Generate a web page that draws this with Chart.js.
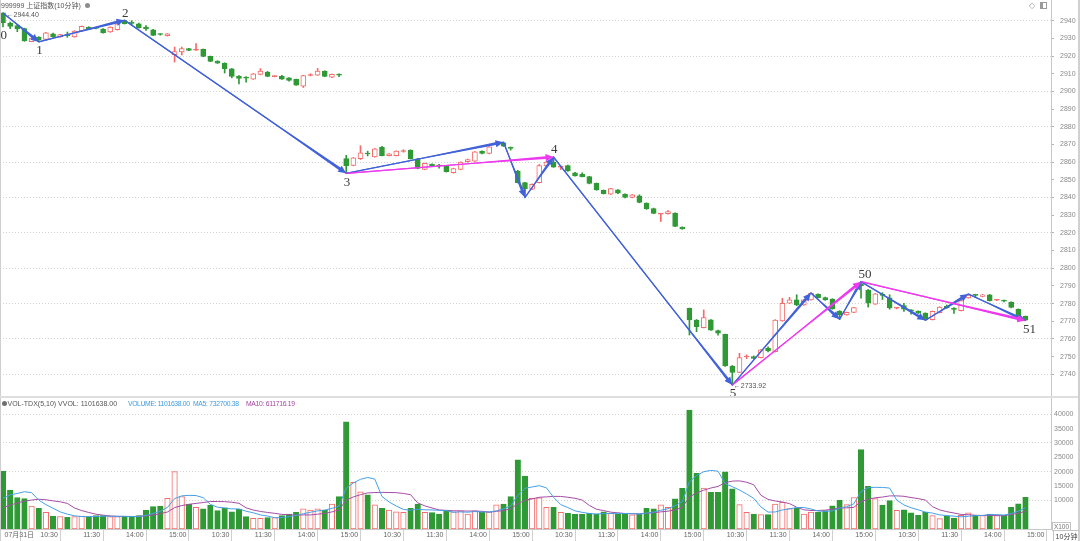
<!DOCTYPE html>
<html><head><meta charset="utf-8">
<script src="https://cdn.jsdelivr.net/npm/chart.js@4.4.1/dist/chart.umd.min.js"></script>
<style>
html,body{margin:0;padding:0;background:#fff;}
body{width:1080px;height:541px;position:relative;overflow:hidden;font-family:"Liberation Sans","Noto Sans CJK SC",Arial,sans-serif;}
.t{position:absolute;white-space:nowrap;font-size:7px;line-height:9px;}
canvas{position:absolute;left:0;}
.ln{position:absolute;background:#d6d6d6;}
</style></head><body>
<canvas id="pc" width="1080" height="397" style="top:0"></canvas>
<canvas id="vc" width="1080" height="144" style="top:397px"></canvas>

<div class="ln" style="left:0;top:0;width:1px;height:541px;background:#cfcfcf"></div>
<div class="ln" style="left:0;top:396px;width:1080px;height:2px;background:#dedede"></div>
<div class="ln" style="left:1078px;top:0;width:2px;height:541px;background:#d0d0d0"></div>

<div class="t" style="left:1px;top:1px;color:#555;font-family:'Liberation Sans','Noto Sans CJK SC',sans-serif;">999999 上证指数(10分钟)</div>
<div style="position:absolute;left:85px;top:3px;width:5px;height:5px;border-radius:50%;background:#8c8c8c"></div>
<div class="t" style="left:1029px;top:1px;color:#999;font-size:8px;font-family:'DejaVu Sans',sans-serif">◇</div>
<div style="position:absolute;left:1040px;top:2px;width:5px;height:5px;border:1px solid #9a9a9a;background:linear-gradient(90deg,#9a9a9a 50%,#fff 50%)"></div>

<div style="position:absolute;left:2px;top:400.5px;width:5px;height:5px;border-radius:50%;background:#6f6f6f"></div>
<div class="t" style="left:7.5px;top:398.5px;color:#555">VOL-TDX(5,10) VVOL: 1101638.00</div>
<div class="t" style="left:128px;top:398.5px;color:#3f9be0;font-size:6.8px;letter-spacing:-0.35px">VOLUME: 1101638.00</div>
<div class="t" style="left:193px;top:398.5px;color:#3f9be0;font-size:6.8px;letter-spacing:-0.3px">MA5: 732700.38</div>
<div class="t" style="left:246px;top:398.5px;color:#a2479f;font-size:6.8px;letter-spacing:-0.3px">MA10: 611716.19</div>

<div class="t" style="left:1052px;top:522px;width:17px;height:7px;line-height:7px;border:1px solid #c4c4c4;color:#777;font-size:6.5px;text-align:center">X100</div>
<div class="t" style="left:1053px;top:530px;width:25px;height:11px;line-height:11px;border-left:1px solid #c4c4c4;border-top:1px solid #c4c4c4;color:#444;font-size:7px;text-align:center;font-family:'Liberation Sans','Noto Sans CJK SC',sans-serif">10分钟</div>

<script>
// ---------- data (10-minute bars, 6 sessions x 24 bars) ----------
const open = [
2944.4,2938.7,2937.2,2935.5,2928.1,2930.7,2929.4,2932.6,2930.8,2932.1,2930.8,2934.2,2936.4,2935.9,2935.3,2933.6,2934.9,2940.1,2938.8,2938.3,2936.4,2934.9,2932.5,2931.5,
2920.8,2922.3,2924.2,2923.4,2923.8,2919.8,2917.2,2916.0,2912.8,2908.7,2907.7,2907.0,2909.6,2911.0,2908.4,2908.5,2907.7,2906.8,2903.0,2909.0,2909.2,2911.5,2908.0,2909.4,
2862.0,2858.1,2862.0,2865.0,2863.0,2868.4,2863.7,2863.7,2866.0,2866.7,2861.9,2855.9,2858.9,2858.0,2857.8,2854.0,2855.9,2860.2,2860.6,2866.2,2864.9,2870.3,2870.9,2868.2,
2855.0,2848.4,2844.7,2848.4,2857.8,2860.0,2857.2,2858.1,2854.0,2853.1,2851.8,2848.0,2844.1,2841.9,2844.3,2841.9,2840.0,2841.0,2836.8,2833.8,2830.6,2830.8,2831.2,2823.2,
2777.3,2770.7,2766.4,2770.8,2764.7,2762.6,2744.7,2741.1,2749.8,2750.0,2749.4,2754.7,2752.8,2770.2,2780.2,2782.1,2779.2,2782.1,2785.2,2783.4,2782.6,2775.8,2773.6,2775.0,
2791.2,2787.5,2779.7,2785.0,2783.2,2777.4,2778.8,2776.2,2775.7,2774.6,2770.9,2774.9,2778.6,2777.0,2776.0,2783.2,2784.9,2784.0,2785.0,2781.9,2781.6,2780.8,2776.8,2772.8];
const high = [
2944.4,2939.2,2937.6,2935.8,2930.4,2931.0,2933.4,2933.0,2932.3,2933.6,2934.4,2937.0,2936.6,2936.2,2935.5,2936.6,2938.5,2940.3,2940.0,2938.6,2937.3,2935.1,2932.7,2932.8,
2925.1,2925.1,2924.4,2927.0,2924.0,2920.0,2917.4,2916.2,2913.0,2908.9,2908.4,2910.2,2912.9,2911.3,2908.8,2909.1,2907.9,2907.0,2909.1,2910.0,2913.0,2911.7,2909.8,2910.0,
2863.8,2862.6,2869.3,2866.2,2867.7,2869.0,2864.9,2866.4,2867.0,2867.0,2862.1,2859.5,2859.1,2858.8,2858.0,2856.6,2860.2,2861.7,2866.0,2866.4,2868.8,2871.0,2871.3,2868.6,
2855.4,2848.6,2847.7,2858.7,2860.4,2862.9,2857.8,2858.3,2854.2,2854.0,2852.0,2848.2,2844.3,2845.2,2844.5,2842.1,2841.7,2841.5,2837.0,2834.0,2831.0,2832.6,2831.4,2823.4,
2777.5,2771.0,2776.4,2771.0,2765.0,2762.8,2745.0,2751.9,2751.0,2750.4,2754.0,2755.6,2770.9,2783.0,2783.5,2785.0,2782.3,2786.0,2785.5,2783.7,2782.8,2776.0,2775.2,2777.9,
2792.4,2788.0,2785.7,2786.2,2785.0,2777.8,2780.2,2776.6,2775.9,2774.8,2775.8,2778.2,2779.2,2777.8,2781.9,2785.4,2785.3,2785.2,2785.2,2782.4,2782.0,2781.0,2777.0,2773.0];
const low = [
2936.5,2935.5,2933.8,2928.3,2928.1,2928.0,2929.2,2930.5,2930.6,2930.6,2930.6,2934.0,2935.1,2935.3,2932.9,2933.4,2934.7,2938.1,2937.4,2935.8,2934.5,2931.5,2931.8,2931.3,
2916.6,2920.6,2923.0,2923.2,2919.6,2916.8,2915.8,2910.4,2907.7,2904.3,2905.2,2906.8,2909.4,2908.3,2908.2,2906.8,2905.8,2903.4,2902.2,2908.8,2909.0,2908.3,2907.8,2908.4,
2853.7,2857.9,2861.5,2863.5,2862.8,2863.5,2863.5,2863.5,2865.6,2861.7,2856.2,2855.7,2857.6,2856.6,2854.4,2853.8,2855.7,2860.0,2860.4,2864.7,2864.7,2870.1,2868.8,2866.8,
2848.2,2840.0,2844.5,2848.2,2857.6,2857.0,2855.8,2854.8,2852.0,2851.6,2847.7,2844.1,2842.0,2841.7,2842.2,2839.8,2839.8,2837.0,2833.3,2830.8,2826.4,2830.6,2823.5,2822.0,
2762.2,2764.1,2766.2,2764.8,2762.2,2744.5,2733.92,2740.9,2748.8,2748.8,2749.2,2752.6,2752.6,2770.0,2780.0,2778.8,2779.0,2781.9,2783.2,2781.8,2776.8,2771.1,2773.4,2774.8,
2783.0,2778.0,2779.5,2782.3,2776.8,2777.0,2775.5,2774.0,2774.4,2770.6,2770.7,2774.7,2777.3,2774.4,2775.8,2783.0,2783.3,2783.8,2781.4,2781.7,2781.0,2777.6,2772.6,2770.4];
const close = [
2938.9,2936.8,2935.4,2928.6,2930.2,2929.2,2933.2,2930.8,2932.1,2931.6,2934.2,2936.8,2935.3,2935.7,2933.2,2936.4,2938.3,2938.3,2938.5,2936.0,2935.3,2931.7,2932.2,2932.6,
2922.6,2924.2,2923.2,2923.8,2919.8,2917.0,2916.0,2912.8,2908.5,2907.4,2907.5,2910.0,2911.5,2908.5,2908.6,2907.0,2906.2,2903.6,2908.9,2909.3,2911.5,2908.5,2909.6,2909.2,
2858.0,2862.4,2865.2,2864.6,2867.5,2863.7,2864.7,2866.2,2866.2,2861.9,2856.4,2859.3,2857.8,2857.8,2854.6,2856.4,2860.0,2861.5,2865.8,2864.9,2868.6,2870.8,2869.0,2867.8,
2848.4,2845.0,2847.5,2858.1,2860.0,2857.2,2857.5,2855.0,2852.2,2851.8,2847.9,2844.3,2842.2,2845.0,2842.4,2840.0,2841.5,2837.2,2833.5,2831.0,2830.8,2832.0,2823.7,2822.2,
2770.7,2767.0,2772.1,2765.0,2763.2,2744.7,2741.1,2749.4,2750.0,2749.0,2753.8,2753.2,2770.7,2780.2,2782.1,2779.2,2782.1,2785.8,2783.4,2782.0,2777.0,2773.6,2775.0,2777.7,
2790.2,2780.3,2785.5,2784.6,2777.5,2777.6,2776.9,2775.9,2774.6,2770.8,2775.6,2778.0,2777.6,2776.7,2781.7,2784.8,2784.6,2785.0,2781.6,2782.1,2781.4,2777.8,2772.8,2770.6];
// volume in units of 100
const volume = [
20200,13600,11000,10600,8000,7200,5800,4500,4300,4100,4300,4500,4300,4650,4650,4300,4300,4300,4100,4650,6500,7800,8000,10700,
20000,11300,8700,7600,7000,8300,6400,7400,6000,6900,4300,3700,3700,4000,4000,4650,5200,5800,7000,6600,7000,6600,8700,11300,
37400,16300,13000,11900,8400,7200,6600,6000,5800,7200,8700,5800,5700,5200,6600,6000,6300,5200,6300,5800,6000,8400,8700,11300,
24100,18500,10700,10900,7600,7600,5800,5500,5100,5100,5500,5100,6000,5500,5200,5200,4900,5200,7200,7000,8400,7600,10500,14200,
41500,19400,14300,12800,12800,19900,14000,8500,5800,5200,5000,5000,8700,9300,7100,7300,5200,5900,5900,6400,8100,10000,8500,11000,
27700,14900,10600,8300,9900,6500,6700,5600,4800,5900,4700,3600,4400,3800,4800,5600,4800,4700,5200,4800,4800,7600,8800,11016.38];
// bars just before the visible window, estimated from where the MA lines start
const priorVolume = [4000,4000,4100,4200,4200,7600,8500,7600,9600];

// zigzag wave turning points (bar index, H = at the bar high, L = at the bar low)
const blueWaveIndex = [0,5,17,48,70,73,77,102,113,117,120,129,135,143];
const blueWaveSide  = ['H','L','H','L','H','L','H','L','H','L','H','L','H','L'];
const magentaWaveAIndex = [48,77];
const magentaWaveASide  = ['L','H'];
const magentaWaveBIndex = [102,120,143];
const magentaWaveBSide  = ['L','H','L'];
const waveLabelText  = ['0','1','2','3','4','5','50','51'];
const waveLabelIndex = [0,5,17,48,77,102,120,143];
const waveLabelSide  = ['L','L','H','L','H','L','H','L'];

const priceTicks = [2740,2750,2760,2770,2780,2790,2800,2810,2820,2830,2840,2850,2860,2870,2880,2890,2900,2910,2920,2930,2940];
const volumeTicks = [10000,15000,20000,25000,30000,35000,40000];
const xTickIndex = [0,5,11,17,23, 29,35,41,47, 53,59,65,71, 77,83,89,95, 101,107,113,119, 125,131,137,143];
const xTickText = ['07月31日','10:30','11:30','14:00','15:00','10:30','11:30','14:00','15:00','10:30','11:30','14:00','15:00',
                   '10:30','11:30','14:00','15:00','10:30','11:30','14:00','15:00','10:30','11:30','14:00','15:00'];

// ---------- styling ----------
const RED = '#f56a6a', GREEN = '#2f9a35', BLUE = '#4262da', MAGENTA = '#ee3aee';
const XMIN = -0.42, XMAX = 146.57;
Chart.defaults.font.family = '"Liberation Sans", "Noto Sans CJK SC", Arial, sans-serif';
Chart.defaults.animation = false;
Chart.defaults.events = [];

const idx = open.map((_, i) => i);
const up = idx.map(i => close[i] > open[i]);
const priceAt = (i, s) => s === 'H' ? high[i] : low[i];
const wavePts = (ix, sd) => ix.map((i, k) => ({x: i, y: priceAt(i, sd[k])}));

const allVol = priorVolume.concat(volume);
const movingAvg = n => volume.map((_, i) => {
  let s = 0; const j = i + priorVolume.length;
  for (let k = 0; k < n; k++) s += allVol[j - k];
  return {x: i, y: s / n};
});

const fitY = w => s => { s.width = w; s.paddingTop = 0; s.paddingBottom = 0; };

const arrowPlugin = {
  id: 'waveArrows',
  afterDatasetsDraw(chart) {
    const ctx = chart.ctx;
    chart.data.datasets.forEach((ds, di) => {
      if (!ds.wave) return;
      const pts = chart.getDatasetMeta(di).data;
      ctx.save();
      ctx.fillStyle = ds.wave.color;
      for (let j = 0; j < pts.length - 1; j++) {
        const a = pts[j], b = pts[j + 1];
        const dx = b.x - a.x, dy = b.y - a.y, L = Math.hypot(dx, dy);
        const ux = dx / L, uy = dy / L, nx = -uy, ny = ux;
        const head = 8, hw = 3.6;
        const bx = b.x - ux * head, by = b.y - uy * head;
        const ramp = Math.min((L - head) * 0.6, 75);
        const mx = bx - ux * ramp, my = by - uy * ramp;
        const w0 = ds.wave.w0 / 2, w1 = ds.wave.w1 / 2;
        ctx.beginPath();
        ctx.moveTo(a.x + nx * w0, a.y + ny * w0);
        ctx.lineTo(mx + nx * w0, my + ny * w0);
        ctx.lineTo(bx + nx * w1, by + ny * w1);
        ctx.lineTo(bx + nx * hw, by + ny * hw);
        ctx.lineTo(b.x, b.y);
        ctx.lineTo(bx - nx * hw, by - ny * hw);
        ctx.lineTo(bx - nx * w1, by - ny * w1);
        ctx.lineTo(mx - nx * w0, my - ny * w0);
        ctx.lineTo(a.x - nx * w0, a.y - ny * w0);
        ctx.closePath();
        ctx.fill();
      }
      ctx.restore();
    });
  }
};

const labelPlugin = {
  id: 'waveLabels',
  afterDatasetsDraw(chart) {
    const {ctx, scales: {x, y}} = chart;
    ctx.save();
    ctx.font = '13px "Liberation Serif", "DejaVu Serif", serif';
    ctx.fillStyle = '#3a3a3a';
    ctx.textBaseline = 'middle';
    ctx.textAlign = 'left';
    waveLabelText.forEach((t, k) => {
      const i = waveLabelIndex[k], hi = waveLabelSide[k] === 'H';
      ctx.fillText(t, x.getPixelForValue(i) - 2.5, y.getPixelForValue(priceAt(i, waveLabelSide[k])) + (hi ? -7 : 9));
    });
    ctx.font = '7px "Liberation Sans", "DejaVu Sans", sans-serif';
    ctx.fillStyle = '#555';
    const hv = Math.max(...high), hi = high.indexOf(hv);
    const lv = Math.min(...low), li = low.indexOf(lv);
    ctx.fillText('\u2190' + hv.toFixed(2), x.getPixelForValue(hi) + 3.5, y.getPixelForValue(hv) + 2.5);
    ctx.fillText('\u2190' + lv.toFixed(2), x.getPixelForValue(li) + 1.5, y.getPixelForValue(lv) + 1);
    ctx.restore();
  }
};

const waveDs = (pts, color) => ({
  type: 'line', data: pts, borderColor: color, borderWidth: 1.2, pointRadius: 0, tension: 0,
  order: 0, wave: {color: color, w0: 1.2, w1: 2.8}
});

new Chart(document.getElementById('pc'), {
  type: 'bar',
  data: {
    datasets: [
      { type: 'bar', data: idx.map(i => ({x: i, y: [low[i], high[i]]})),
        backgroundColor: idx.map(i => up[i] ? RED : GREEN), barThickness: 1, grouped: false, order: 3 },
      { type: 'bar', data: idx.map(i => ({x: i, y: [open[i], close[i]]})),
        backgroundColor: idx.map(i => up[i] ? ((close[i] - open[i]) < 0.7 ? RED : '#ffffff') : GREEN),
        borderColor: idx.map(i => up[i] ? RED : GREEN),
        borderWidth: 1, borderSkipped: false, barThickness: 5, minBarLength: 1, grouped: false, order: 2 },
      waveDs(wavePts(blueWaveIndex, blueWaveSide), BLUE),
      waveDs(wavePts(magentaWaveAIndex, magentaWaveASide), MAGENTA),
      waveDs(wavePts(magentaWaveBIndex, magentaWaveBSide), MAGENTA)
    ]
  },
  options: {
    responsive: false, devicePixelRatio: 1,
    layout: {padding: 0},
    plugins: {legend: {display: false}, tooltip: {enabled: false}},
    scales: {
      x: { type: 'linear', min: XMIN, max: XMAX, display: false, offset: false },
      y: { position: 'right', min: 2727.16, max: 2951.71,
        afterBuildTicks: s => { s.ticks = priceTicks.map(v => ({value: v})); },
        afterFit: fitY(29),
        ticks: { color: '#8a8a8a', font: {size: 7}, padding: 6, callback: v => String(v) },
        grid: { color: c => (c.tick && c.tick.value % 20 === 0) ? '#d2d2d2' : 'rgba(0,0,0,0)',
                tickColor: '#b4b4b4', tickLength: 3, lineWidth: 1 },
        border: { display: true, color: '#c8c8c8', dash: [1, 2] }
      }
    }
  },
  plugins: [arrowPlugin, labelPlugin]
});

new Chart(document.getElementById('vc'), {
  type: 'bar',
  data: {
    datasets: [
      { type: 'bar', data: idx.map(i => ({x: i, y: volume[i]})),
        backgroundColor: idx.map(i => up[i] ? '#ffffff' : GREEN),
        borderColor: idx.map(i => up[i] ? RED : GREEN),
        borderWidth: 1, borderSkipped: false, barThickness: 5.5, grouped: false, order: 2 },
      { type: 'line', data: movingAvg(5), borderColor: '#46a0e6', borderWidth: 1, pointRadius: 0, tension: 0, order: 1 },
      { type: 'line', data: movingAvg(10), borderColor: '#a64ca6', borderWidth: 1, pointRadius: 0, tension: 0, order: 1 }
    ]
  },
  options: {
    responsive: false, devicePixelRatio: 1,
    layout: {padding: 0},
    plugins: {legend: {display: false}, tooltip: {enabled: false}},
    scales: {
      x: { type: 'linear', min: XMIN, max: XMAX, offset: false,
        afterBuildTicks: s => { s.ticks = xTickIndex.map(v => ({value: v})); },
        afterFit: s => { s.height = 12; s.paddingLeft = 0; s.paddingRight = 0; },
        ticks: { autoSkip: false, maxRotation: 0, minRotation: 0, align: 'start', labelOffset: 1.5,
                 padding: -10, color: '#666', font: {size: 7}, callback: (v, k) => xTickText[k] },
        grid: { drawOnChartArea: false, drawTicks: true, tickLength: 12, color: '#d0d0d0', tickColor: '#d0d0d0' },
        border: { display: true, color: '#c8c8c8' }
      },
      y: { position: 'right', min: 0, max: 46040,
        afterBuildTicks: s => { s.ticks = volumeTicks.map(v => ({value: v})); },
        afterFit: fitY(29),
        ticks: { color: '#8a8a8a', font: {size: 7}, padding: 3, callback: v => String(v) },
        grid: { color: c => (c.tick && c.tick.value % 10000 === 0) ? '#d2d2d2' : 'rgba(0,0,0,0)', drawTicks: false },
        border: { display: true, color: '#c8c8c8', dash: [1, 2] }
      }
    }
  }
});
</script>
</body></html>
